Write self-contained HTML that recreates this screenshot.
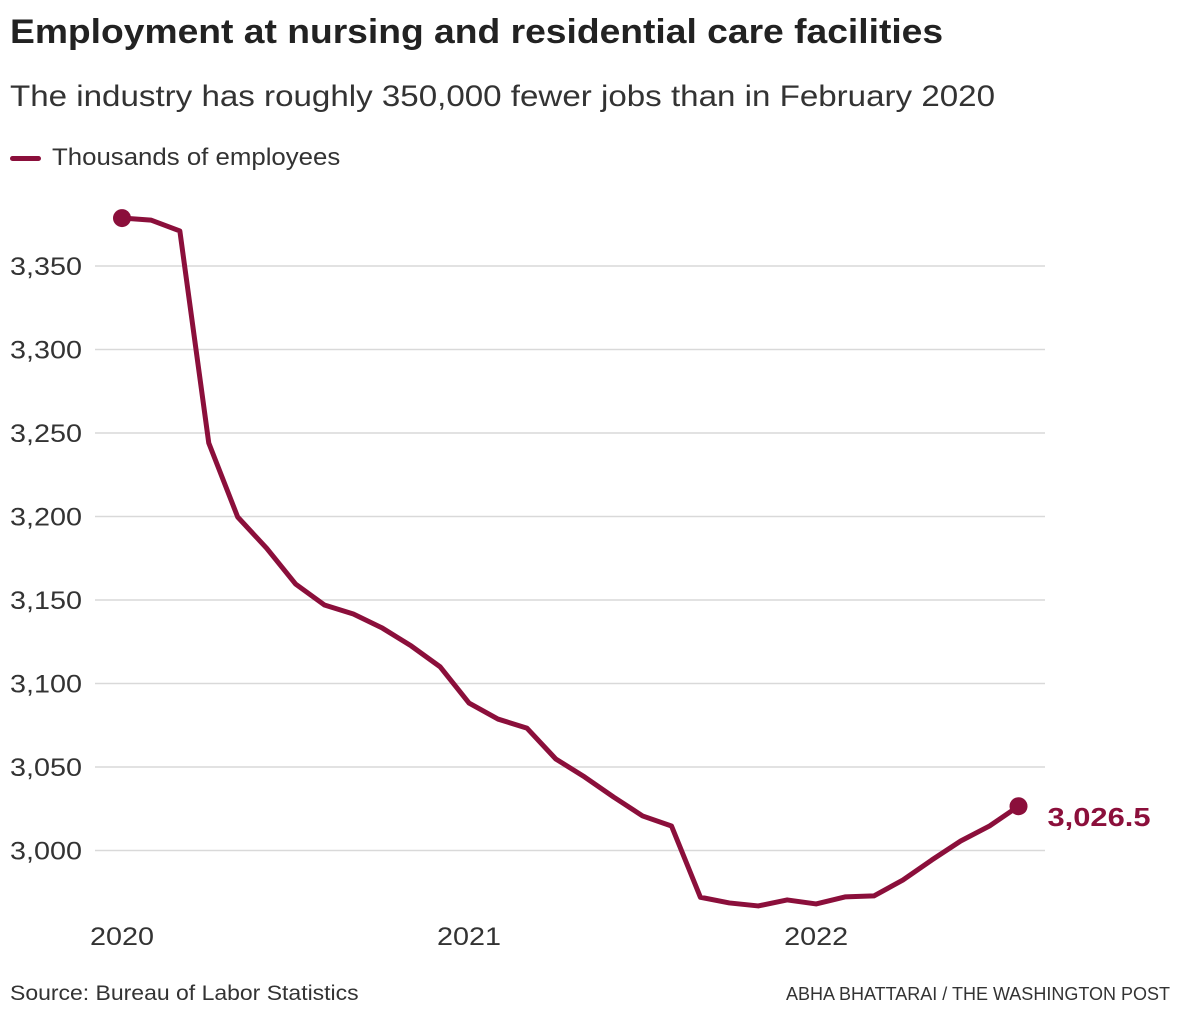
<!DOCTYPE html>
<html><head><meta charset="utf-8">
<style>
html,body{margin:0;padding:0;background:#fff;}
body{width:1180px;height:1020px;position:relative;font-family:"Liberation Sans",sans-serif;color:#222;overflow:hidden;}
.t{position:absolute;white-space:nowrap;transform-origin:0 0;}
</style></head>
<body>
<div class="t" style="left:10px;top:13px;font-size:34px;font-weight:bold;color:#222;transform:scaleX(1.095);">Employment at nursing and residential care facilities</div>
<div class="t" style="left:10px;top:80px;font-size:30px;color:#333;transform:scaleX(1.104);">The industry has roughly 350,000 fewer jobs than in February 2020</div>
<div>
<div style="position:absolute;left:10px;top:156px;width:31px;height:5px;border-radius:3px;background:#8b0f3b;"></div>
<div class="t" style="left:52px;top:144px;font-size:24px;color:#333;transform:scaleX(1.075);">Thousands of employees</div>
</div>
<svg id="chart" width="1180" height="1020" style="position:absolute;left:0;top:0;"></svg>
<div class="t" style="left:10px;top:982px;font-size:21px;color:#333;transform:scaleX(1.094);">Source: Bureau of Labor Statistics</div>
<div class="t" style="right:10px;top:984px;font-size:18px;color:#333;">ABHA BHATTARAI / THE WASHINGTON POST</div>
<script>
const values = [3378.7,3377.5,3371,3244,3199.7,3181,3159.6,3147,3141.6,3133.2,3122.5,3110,3088.3,3078.7,3073.3,3054.8,3044,3032,3020.7,3014.7,2972,2968.6,2966.8,2970.4,2968,2972.2,2972.8,2982.3,2994.3,3005.7,3014.7,3026.5];
const yTicks = [3000,3050,3100,3150,3200,3250,3300,3350];
const yTickLabels = ["3,000","3,050","3,100","3,150","3,200","3,250","3,300","3,350"];
const xTickIndex = [0,12,24];
const xTickLabels = ["2020","2021","2022"];
const lastLabel = "3,026.5";

const NS="http://www.w3.org/2000/svg";
const svg=document.getElementById('chart');
const y=v=>266+(3350-v)*1.67;
const x=i=>122+i*28.92;
function mk(tag,attrs){const e=document.createElementNS(NS,tag);for(const k in attrs)e.setAttribute(k,attrs[k]);svg.appendChild(e);return e;}
yTicks.forEach((v,k)=>{
  const l=mk('line',{x1:95,x2:1045,y1:y(v),y2:y(v),stroke:'#d9d9d9','stroke-width':1.5});
  
  
  const t=mk('text',{x:10,y:y(v)+9,'font-size':25,fill:'#333','font-family':'Liberation Sans, sans-serif',textLength:72,lengthAdjust:'spacingAndGlyphs'});
  t.textContent=yTickLabels[k];
  
  
});
xTickIndex.forEach((i,k)=>{
  const t=mk('text',{x:x(i)-32,y:945,'font-size':25,fill:'#333','font-family':'Liberation Sans, sans-serif',textLength:64,lengthAdjust:'spacingAndGlyphs'});
  t.textContent=xTickLabels[k];
  
  
});
const p=mk('polyline',{points:values.map((v,i)=>x(i)+','+y(v)).join(' '),fill:'none',stroke:'#8b0f3b','stroke-width':5,'stroke-linejoin':'round'});


const c1=mk('circle',{cx:x(0),cy:y(values[0]),r:9,fill:'#8b0f3b'});


const n=values.length-1;
const c2=mk('circle',{cx:x(n),cy:y(values[n]),r:9,fill:'#8b0f3b'});


const lt=mk('text',{x:x(n)+29,y:y(values[n])+20,'font-size':26,'font-weight':'bold',fill:'#8b0f3b','font-family':'Liberation Sans, sans-serif',textLength:103,lengthAdjust:'spacingAndGlyphs'});
lt.textContent=lastLabel;


</script>
</body></html>
